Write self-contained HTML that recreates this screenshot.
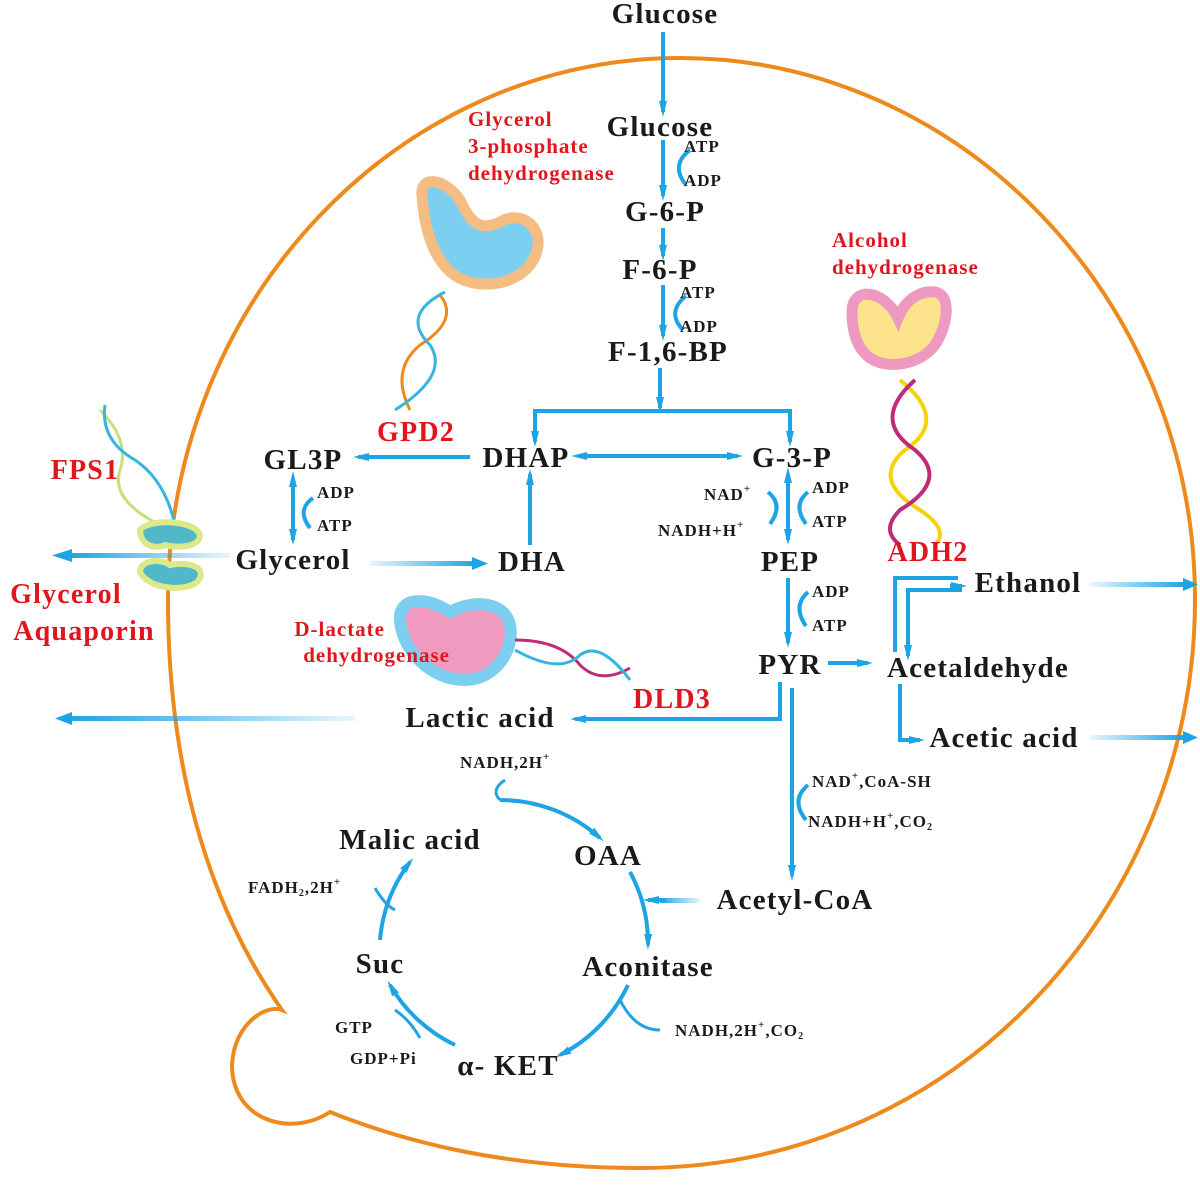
<!DOCTYPE html>
<html><head><meta charset="utf-8"><style>
html,body{margin:0;padding:0;background:#fff;}
svg{display:block;}
text{font-family:"Liberation Serif",serif;font-weight:bold;}
.b{fill:#1a1a1a;font-size:29px;letter-spacing:1.2px;}
.s{fill:#1a1a1a;font-size:17px;letter-spacing:1px;}
.r{fill:#e0161e;font-size:21px;letter-spacing:1px;}
.R{fill:#e0161e;font-size:28px;letter-spacing:1.2px;}
.ln{stroke:#1ea4e4;stroke-width:4;fill:none;}
.lt{stroke:#1ea4e4;stroke-width:4;fill:none;}
</style></head><body>
<svg width="1200" height="1204" viewBox="0 0 1200 1204" xmlns="http://www.w3.org/2000/svg">
<defs>
<marker id="a" markerWidth="16" markerHeight="10" refX="11" refY="5" orient="auto" markerUnits="userSpaceOnUse"><path d="M0,1 L16,5 L0,9 Z" fill="#1ea4e4"/></marker>
<marker id="as" markerWidth="16" markerHeight="10" refX="5" refY="5" orient="auto-start-reverse" markerUnits="userSpaceOnUse"><path d="M0,1 L16,5 L0,9 Z" fill="#1ea4e4"/></marker>
<linearGradient id="gr" x1="0" x2="1"><stop offset="0" stop-color="#1ea4e4" stop-opacity="0.1"/><stop offset="1" stop-color="#1ea4e4"/></linearGradient>
<linearGradient id="gl" x1="1" x2="0"><stop offset="0" stop-color="#1ea4e4" stop-opacity="0.1"/><stop offset="1" stop-color="#1ea4e4"/></linearGradient>
</defs>
<path d="M680 58 C960 58 1195 300 1195 600 C1195 900 960 1168 640 1168 C500 1168 400 1140 330 1112 C290 1138 232 1120 232 1065 C234 1022 268 1004 282 1010 C205 900 168 760 168 600 C168 300 400 58 680 58 Z" fill="none" stroke="#ee8a1c" stroke-width="4"/>

<rect x="370" y="561" width="105" height="5" fill="url(#gr)"/><path d="M472 557 L488 563.5 L472 570 Z" fill="#1ea4e4"/>
<rect x="70" y="716" width="285" height="5" fill="url(#gl)"/><path d="M72 712 L55 718.5 L72 725 Z" fill="#1ea4e4"/>
<rect x="70" y="553" width="160" height="5" fill="url(#gl)"/><path d="M72 549 L52 555.5 L72 562 Z" fill="#1ea4e4"/>
<rect x="1090" y="582" width="95" height="5" fill="url(#gr)"/><path d="M1183 578 L1198 584.5 L1183 591 Z" fill="#1ea4e4"/>
<rect x="1090" y="735" width="95" height="5" fill="url(#gr)"/><path d="M1183 731 L1198 737.5 L1183 744 Z" fill="#1ea4e4"/>
<rect x="660" y="898" width="40" height="5" fill="url(#gl)"/>

<line class="ln" x1="663" y1="32" x2="663" y2="112" marker-end="url(#a)"/>
<line class="ln" x1="663" y1="140" x2="663" y2="196" marker-end="url(#a)"/>
<line class="ln" x1="663" y1="228" x2="663" y2="256" marker-end="url(#a)"/>
<line class="ln" x1="663" y1="285" x2="663" y2="336" marker-end="url(#a)"/>
<line class="ln" x1="660" y1="368" x2="660" y2="408" marker-end="url(#a)"/>
<path class="lt" d="M535 440 V411 H790 V440" />
<line class="ln" x1="535" y1="430" x2="535" y2="442" marker-end="url(#a)"/>
<line class="ln" x1="790" y1="430" x2="790" y2="442" marker-end="url(#a)"/>
<line class="ln" x1="582" y1="456" x2="738" y2="456" marker-start="url(#as)" marker-end="url(#a)"/>
<line class="ln" x1="470" y1="457" x2="358" y2="457" marker-end="url(#a)"/>
<line class="ln" x1="293" y1="482" x2="293" y2="540" marker-start="url(#as)" marker-end="url(#a)"/>
<line class="ln" x1="530" y1="545" x2="530" y2="474" marker-end="url(#a)"/>
<line class="ln" x1="788" y1="478" x2="788" y2="540" marker-start="url(#as)" marker-end="url(#a)"/>
<line class="ln" x1="788" y1="578" x2="788" y2="643" marker-end="url(#a)"/>
<line class="ln" x1="828" y1="663" x2="868" y2="663" marker-end="url(#a)"/>
<path class="lt" d="M780 682 V719 H585"/>
<line class="ln" x1="590" y1="719" x2="575" y2="719" marker-end="url(#a)"/>
<line class="ln" x1="792" y1="688" x2="792" y2="876" marker-end="url(#a)"/>
<line class="ln" x1="665" y1="900" x2="648" y2="900" marker-end="url(#a)"/>
<path class="lt" d="M895 652 V578 H958"/>
<line class="ln" x1="950" y1="586" x2="962" y2="586" marker-end="url(#a)"/>
<path class="ln" stroke-width="3" d="M962 590 H908 V648"/>
<line class="ln" x1="908" y1="645" x2="908" y2="656" marker-end="url(#a)"/>
<path class="lt" d="M900 684 V740 H916"/>
<line class="ln" x1="910" y1="740" x2="920" y2="740" marker-end="url(#a)"/>
<g class="ln" stroke-width="3">
<path d="M690 150 Q670 165 686 185"/><path d="M686 296 Q666 312 683 330"/>
<path d="M313 498 Q296 510 310 528"/><path d="M808 492 Q792 505 806 524"/><path d="M768 492 Q784 505 770 524"/>
<path d="M808 592 Q792 606 806 626"/><path d="M808 785 Q790 800 806 820"/>
</g>
<g class="ln" stroke-width="4">
<path d="M500 800 A150 150 0 0 1 600 838" marker-end="url(#a)"/>
<path d="M630 872 A150 150 0 0 1 648 945" marker-end="url(#a)"/>
<path d="M628 985 A150 150 0 0 1 560 1055" marker-end="url(#a)"/>
<path d="M455 1045 A150 150 0 0 1 390 985" marker-end="url(#a)"/>
<path d="M380 940 A150 150 0 0 1 410 862" marker-end="url(#a)"/>
<path d="M500 800 Q490 790 505 780" stroke-width="3"/>
<path d="M375 888 Q385 905 395 910" stroke-width="3"/>
<path d="M620 1000 Q635 1030 660 1030" stroke-width="3"/>
<path d="M395 1010 Q410 1020 420 1038" stroke-width="3"/>
</g>
<g>
<path d="M422 195 C420 175 445 178 460 200 C470 222 480 232 500 222 C520 210 540 225 538 245 C535 275 500 290 470 282 C440 275 425 240 422 195 Z" fill="#7ccff0" stroke="#f6bd82" stroke-width="11"/>
<path d="M440 295 Q460 320 420 345 Q390 370 410 410" stroke="#ee8a1c" stroke-width="3" fill="none"/>
<path d="M445 292 Q400 315 430 345 Q450 375 395 410" stroke="#37b4e0" stroke-width="3" fill="none"/>
<path d="M852 312 C852 285 885 290 898 318 C905 300 920 290 935 292 C952 295 948 325 935 345 C920 365 888 370 870 358 C856 348 852 330 852 312 Z" fill="#fde38c" stroke="#ee9ac0" stroke-width="11"/>
<path d="M900 380 Q950 420 905 450 Q870 480 920 510 Q950 530 935 545" stroke="#f5d20a" stroke-width="4" fill="none"/>
<path d="M915 380 Q870 420 915 450 Q950 480 900 510 Q880 530 900 545" stroke="#c02a7a" stroke-width="4" fill="none"/>
<path d="M400 620 C398 598 425 595 450 612 C470 600 505 600 510 625 C515 650 495 680 465 680 C430 680 402 650 400 620 Z" fill="#f09ac0" stroke="#7ccff0" stroke-width="12"/>
<path d="M515 640 Q560 640 580 665 Q600 685 630 668" stroke="#c02a7a" stroke-width="3" fill="none"/>
<path d="M515 650 Q560 675 580 655 Q600 640 630 680" stroke="#37b4e0" stroke-width="3" fill="none"/>
<path d="M100 410 Q130 440 120 470 Q110 500 160 525" stroke="#c6e07a" stroke-width="3" fill="none"/>
<path d="M105 405 Q100 440 135 460 Q165 480 175 525" stroke="#37b4e0" stroke-width="3" fill="none"/>
<path d="M140 530 C150 518 195 520 200 535 C200 548 175 548 165 545 C155 550 140 545 140 530 Z" fill="#50b8c8" stroke="#dde889" stroke-width="6"/>
<path d="M140 572 C140 560 160 558 170 565 C185 562 205 565 200 578 C195 592 150 592 140 572 Z" fill="#50b8c8" stroke="#dde889" stroke-width="6"/>
</g>
<g text-anchor="middle">
<text x="665" y="23" class="b">Glucose</text>
<text x="660" y="136" class="b">Glucose</text>
<text x="665" y="221" class="b">G-6-P</text>
<text x="660" y="279" class="b">F-6-P</text>
<text x="668" y="361" class="b">F-1,6-BP</text>
<text x="526" y="467" class="b">DHAP</text>
<text x="792" y="467" class="b">G-3-P</text>
<text x="303" y="469" class="b">GL3P</text>
<text x="293" y="569" class="b">Glycerol</text>
<text x="532" y="571" class="b">DHA</text>
<text x="790" y="571" class="b">PEP</text>
<text x="790" y="674" class="b">PYR</text>
<text x="978" y="677" class="b">Acetaldehyde</text>
<text x="1028" y="592" class="b">Ethanol</text>
<text x="1004" y="747" class="b">Acetic acid</text>
<text x="480" y="727" class="b">Lactic acid</text>
<text x="795" y="909" class="b">Acetyl-CoA</text>
<text x="608" y="865" class="b">OAA</text>
<text x="648" y="976" class="b">Aconitase</text>
<text x="508" y="1075" class="b">α- KET</text>
<text x="380" y="973" class="b">Suc</text>
<text x="410" y="849" class="b">Malic acid</text>
</g>
<g class="s">
<text x="684" y="152">ATP</text><text x="684" y="186">ADP</text>
<text x="680" y="298">ATP</text><text x="680" y="332">ADP</text>
<text x="317" y="498">ADP</text><text x="317" y="531">ATP</text>
<text x="812" y="493">ADP</text><text x="812" y="527">ATP</text>
<text x="704" y="500">NAD<tspan font-size="11" dy="-8">+</tspan></text>
<text x="658" y="536">NADH+H<tspan font-size="11" dy="-8">+</tspan></text>
<text x="812" y="597">ADP</text><text x="812" y="631">ATP</text>
<text x="812" y="787">NAD<tspan font-size="11" dy="-8">+</tspan><tspan dy="8">,CoA-SH</tspan></text>
<text x="808" y="827">NADH+H<tspan font-size="11" dy="-8">+</tspan><tspan dy="8">,CO</tspan><tspan font-size="10" dy="3">2</tspan></text>
<text x="460" y="768">NADH,2H<tspan font-size="11" dy="-8">+</tspan></text>
<text x="248" y="893">FADH<tspan font-size="10" dy="3">2</tspan><tspan dy="-3">,2H</tspan><tspan font-size="11" dy="-8">+</tspan></text>
<text x="335" y="1033">GTP</text>
<text x="350" y="1064">GDP+Pi</text>
<text x="675" y="1036">NADH,2H<tspan font-size="11" dy="-8">+</tspan><tspan dy="8">,CO</tspan><tspan font-size="10" dy="3">2</tspan></text>
</g>
<g class="r">
<text x="468" y="126">Glycerol</text>
<text x="468" y="153">3-phosphate</text>
<text x="468" y="180">dehydrogenase</text>
<text x="832" y="247">Alcohol</text>
<text x="832" y="274">dehydrogenase</text>
<text x="385" y="636" text-anchor="end">D-lactate</text>
<text x="450" y="662" text-anchor="end">dehydrogenase</text>
</g>
<g class="R" text-anchor="middle">
<text x="416" y="441">GPD2</text>
<text x="85" y="479">FPS1</text>
<text x="66" y="603">Glycerol</text>
<text x="84" y="640">Aquaporin</text>
<text x="928" y="561">ADH2</text>
<text x="672" y="708">DLD3</text>
</g>
</svg>
</body></html>
